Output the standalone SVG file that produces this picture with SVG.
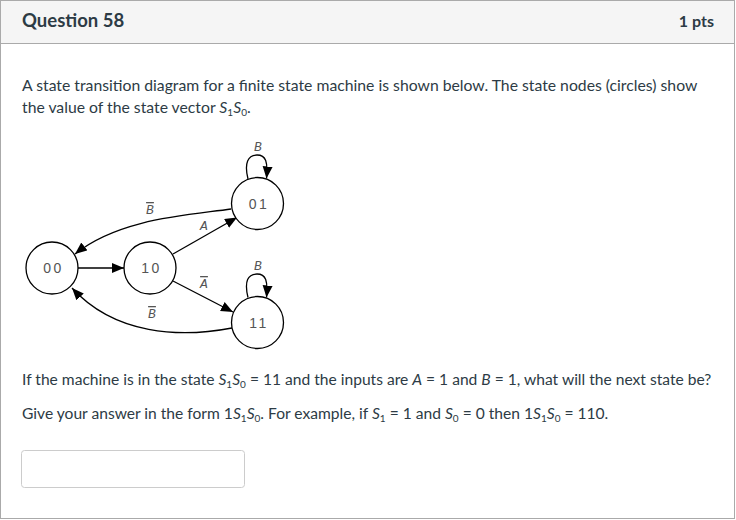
<svg xmlns="http://www.w3.org/2000/svg" width="736" height="520" viewBox="0 0 736 520">
<defs>
<marker id="ah" markerUnits="userSpaceOnUse" markerWidth="14" markerHeight="12" refX="12" refY="5" orient="auto">
<path d="M0,0 L12,5 L0,10 z" fill="#000"/>
</marker>
<style>
.ui{font-family:Lato,"Liberation Sans",sans-serif;fill:#2d3b45}
.b1{font-size:15.75px}
.b2{font-size:15.6px}
.node circle{fill:#fff;stroke:#000;stroke-width:1.3}
.node text{font-family:"Liberation Sans",sans-serif;font-size:14px;fill:#555;text-anchor:middle;letter-spacing:2.5px}
.edges path{fill:none;stroke:#000;stroke-width:1.3}
.lbl{font-family:"Liberation Mono",monospace;font-style:italic;font-size:13px;fill:#555;text-anchor:middle}
.ov{text-decoration:overline}
</style>
</defs>
<rect x="0" y="0" width="736" height="520" fill="#fff"/>
<rect x="0.5" y="0.5" width="734" height="43" fill="#f5f5f5"/>
<rect x="0.5" y="0.5" width="734" height="518" fill="none" stroke="#aaa" stroke-width="1"/>
<line x1="0.5" y1="43.5" x2="734.5" y2="43.5" stroke="#aaa"/>
<text class="ui" x="22" y="27" font-size="18.5" font-weight="bold">Question 58</text>
<text class="ui" x="714" y="27" font-size="16" font-weight="bold" text-anchor="end" fill="#555">1 pts</text>
<text class="ui b1" x="22" y="91">A state transition diagram for a finite state machine is shown below. The state nodes (circles) show</text>
<text class="ui b1" x="22" y="113">the value of the state vector <tspan font-style="italic">S</tspan><tspan font-size="10" dy="3">1</tspan><tspan font-style="italic" dy="-3">S</tspan><tspan font-size="10" dy="3">0</tspan><tspan dy="-3">.</tspan></text>

<g class="edges">
<path d="M78,268 L124,268" marker-end="url(#ah)"/>
<path d="M173,254 L237,217.5" marker-end="url(#ah)"/>
<path d="M173,281 L233,312" marker-end="url(#ah)"/>
<path d="M231,209 C190,215 120,218 75,254" marker-end="url(#ah)"/>
<path d="M232,328 C180,338 115,335 72,288" marker-end="url(#ah)"/>
<path d="M248,179 C244,163 248,155 257,155 C266,155 268,162 266.5,178.5" marker-end="url(#ah)"/>
<path d="M248,297.5 C244,281 248,274 257,274 C266,274 268,281 266.5,297.5" marker-end="url(#ah)"/>
</g>
<g id="lbls">
<text class="lbl ov" x="150" y="214">B</text>
<text class="lbl" x="204" y="230">A</text>
<text class="lbl ov" x="204" y="288">A</text>
<text class="lbl ov" x="152" y="318">B</text>
<text class="lbl" x="258" y="151">B</text>
<text class="lbl" x="258" y="270">B</text>
</g>
<g id="n00" class="node"><circle cx="52" cy="268" r="26"/><text x="53.5" y="273">00</text></g>
<g id="n10" class="node"><circle cx="150" cy="268" r="26"/><text x="151.5" y="273">10</text></g>
<g id="n01" class="node"><circle cx="257.5" cy="203.5" r="26"/><text x="259" y="208.5">01</text></g>
<g id="n11" class="node"><circle cx="257.5" cy="322.5" r="26"/><text x="259" y="327.5">11</text></g>

<text class="ui b2" x="22" y="385">If the machine is in the state <tspan font-style="italic">S</tspan><tspan font-size="10" dy="3">1</tspan><tspan font-style="italic" dy="-3">S</tspan><tspan font-size="10" dy="3">0</tspan><tspan dy="-3"> = 11 and the inputs are </tspan><tspan font-style="italic">A</tspan> = 1 and <tspan font-style="italic">B</tspan> = 1, what will the next state be?</text>
<text class="ui b2" x="22" y="419">Give your answer in the form 1<tspan font-style="italic">S</tspan><tspan font-size="10" dy="3">1</tspan><tspan font-style="italic" dy="-3">S</tspan><tspan font-size="10" dy="3">0</tspan><tspan dy="-3">. For example, if </tspan><tspan font-style="italic">S</tspan><tspan font-size="10" dy="3">1</tspan><tspan dy="-3"> = 1 and </tspan><tspan font-style="italic">S</tspan><tspan font-size="10" dy="3">0</tspan><tspan dy="-3"> = 0 then 1</tspan><tspan font-style="italic">S</tspan><tspan font-size="10" dy="3">1</tspan><tspan font-style="italic" dy="-3">S</tspan><tspan font-size="10" dy="3">0</tspan><tspan dy="-3"> = 110.</tspan></text>
<rect x="21.5" y="450.5" width="223" height="37" rx="3" fill="#fff" stroke="#ccc"/>
</svg>
